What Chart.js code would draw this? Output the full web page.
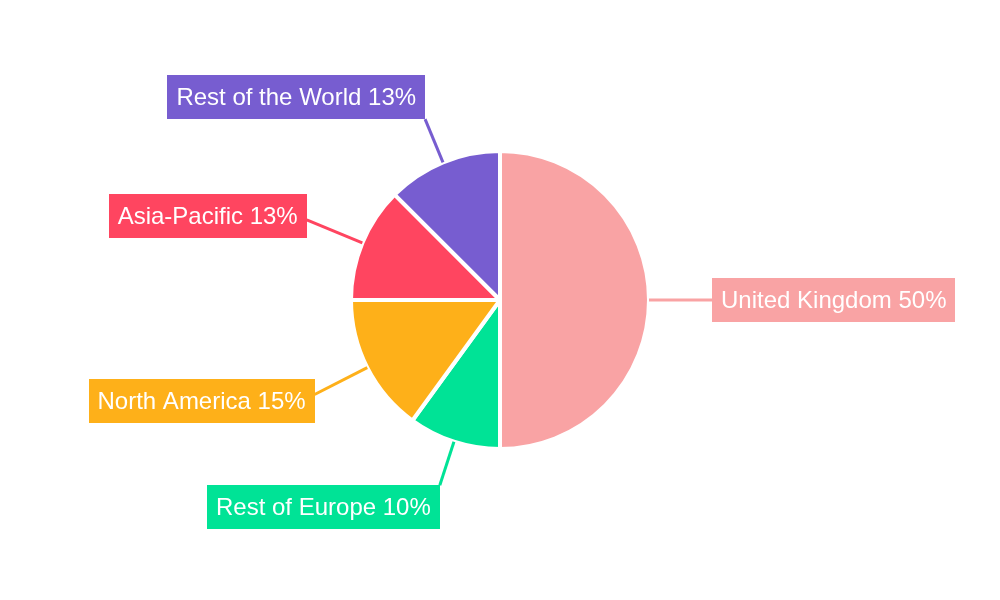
<!DOCTYPE html>
<html>
<head>
<meta charset="utf-8">
<script src="https://cdn.jsdelivr.net/npm/chart.js@4"></script>
<style>
    html, body { margin: 0; padding: 0; background: #fff; }
    #wrap { width: 1000px; height: 600px; position: relative; }
</style>
</head>
<body>
<div id="wrap"><canvas id="regionChart" width="1000" height="600"></canvas></div>
<script>
// Sales by region
const regions = ['United Kingdom', 'Rest of Europe', 'North America', 'Asia-Pacific', 'Rest of the World'];
const shares = [50, 10, 15, 12.5, 12.5];
const sliceColors = ['#F9A3A4', '#00E396', '#FEB019', '#FF4560', '#775DD0'];

// Draws the boxed labels with a leader line from each slice
const calloutLabels = {
    id: 'calloutLabels',
    afterDatasetsDraw(chart) {
        const ctx = chart.ctx;
        const meta = chart.getDatasetMeta(0);
        const total = shares.reduce((a, b) => a + b, 0);
        const fontSize = 24;
        const padX = 9, padY = 10;

        ctx.save();
        ctx.font = fontSize + 'px "Liberation Sans", Arial, sans-serif';
        ctx.textBaseline = 'middle';
        ctx.textAlign = 'center';

        meta.data.forEach((arc, i) => {
            const p = arc.getProps(['x', 'y', 'startAngle', 'endAngle', 'outerRadius'], true);
            const mid = (p.startAngle + p.endAngle) / 2;
            const vx = Math.cos(mid), vy = Math.sin(mid);
            const r0 = p.outerRadius;
            const r1 = r0 + 44 + 19 * vx * vx;
            const sx = p.x + vx * r0, sy = p.y + vy * r0;
            const ex = p.x + vx * r1, ey = p.y + vy * r1;

            const text = regions[i] + ' ' + Math.round(shares[i] / total * 100) + '%';
            const w = ctx.measureText(text).width + padX * 2;
            const h = fontSize + padY * 2;
            const bx = vx < 0 ? ex - w : ex;
            const k = Math.min(Math.max((Math.abs(vy) - 0.3) / 0.5, 0), 1);
            const cy = ey + Math.sign(vy) * k * h / 2;

            ctx.strokeStyle = sliceColors[i];
            ctx.lineWidth = 3;
            ctx.beginPath();
            ctx.moveTo(sx, sy);
            ctx.lineTo(ex, ey);
            ctx.stroke();

            ctx.fillStyle = sliceColors[i];
            ctx.fillRect(Math.round(bx), Math.round(cy - h / 2), Math.round(w), h);
            ctx.fillStyle = '#ffffff';
            ctx.fillText(text, bx + w / 2, cy + 1);
        });
        ctx.restore();
    }
};

const ctx = document.getElementById('regionChart').getContext('2d');
const regionChart = new Chart(ctx, {
    type: 'pie',
    data: {
        labels: regions,
        datasets: [{
            data: shares,
            backgroundColor: sliceColors,
            borderColor: '#ffffff',
            borderWidth: 4,
            radius: 149
        }]
    },
    options: {
        responsive: false,
        animation: false,
        plugins: {
            legend: { display: false },
            tooltip: { enabled: false }
        }
    },
    plugins: [calloutLabels]
});
</script>
</body>
</html>
